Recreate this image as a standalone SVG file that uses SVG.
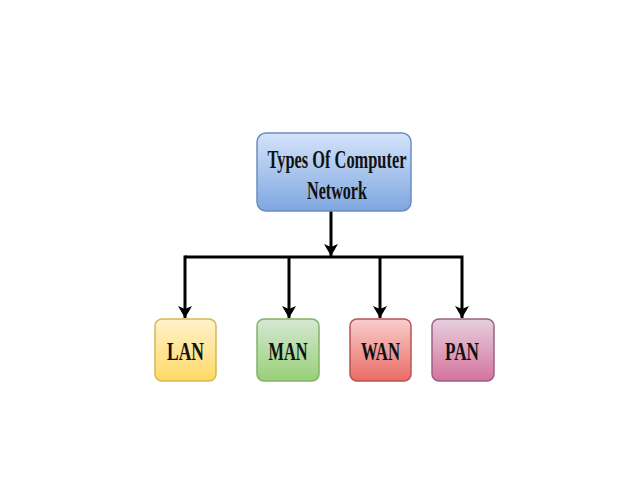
<svg xmlns="http://www.w3.org/2000/svg" width="638" height="478" viewBox="0 0 638 478">
<defs>
<linearGradient id="gBlue" x1="0" y1="0" x2="0" y2="1"><stop offset="0" stop-color="#d4e4fa"/><stop offset="1" stop-color="#7ea6e0"/></linearGradient>
<linearGradient id="gYellow" x1="0" y1="0" x2="0" y2="1"><stop offset="0" stop-color="#fff2cc"/><stop offset="1" stop-color="#ffd966"/></linearGradient>
<linearGradient id="gGreen" x1="0" y1="0" x2="0" y2="1"><stop offset="0" stop-color="#d5e8d4"/><stop offset="1" stop-color="#97d077"/></linearGradient>
<linearGradient id="gRed" x1="0" y1="0" x2="0" y2="1"><stop offset="0" stop-color="#f8cecc"/><stop offset="1" stop-color="#ea6b66"/></linearGradient>
<linearGradient id="gPink" x1="0" y1="0" x2="0" y2="1"><stop offset="0" stop-color="#e6d0de"/><stop offset="1" stop-color="#d5739d"/></linearGradient>
<marker id="arr" viewBox="0 0 12 14" refX="12" refY="7" markerWidth="12" markerHeight="14" markerUnits="userSpaceOnUse" orient="auto">
<path d="M0,0 L12,7 L0,14 L3,7 Z" fill="#000"/>
</marker>
</defs>
<style>
.lbl{font-family:"Liberation Serif","Times New Roman",serif;font-weight:bold;font-size:26px;fill:#111;text-anchor:middle}
.ln{fill:none;stroke:#000;stroke-width:3}
</style>
<rect width="638" height="478" fill="#fff"/>
<g id="connectors">
<line class="ln" x1="331" y1="211" x2="331" y2="256" marker-end="url(#arr)"/>
<polyline class="ln" points="185,257 462,257 462,318" marker-end="url(#arr)"/>
<line class="ln" x1="185" y1="255.5" x2="185" y2="318" marker-end="url(#arr)"/>
<line class="ln" x1="289" y1="257" x2="289" y2="318" marker-end="url(#arr)"/>
<line class="ln" x1="380" y1="257" x2="380" y2="318" marker-end="url(#arr)"/>
</g>
<g id="node-types">
<rect x="257" y="133" width="154" height="78" rx="9" fill="url(#gBlue)" stroke="#6c8ebf" stroke-width="1.5"/>
<text class="lbl" x="337" y="168" textLength="139" lengthAdjust="spacingAndGlyphs">Types Of Computer</text>
<text class="lbl" x="337" y="199" textLength="60" lengthAdjust="spacingAndGlyphs">Network</text>
</g>
<g id="node-lan">
<rect x="155" y="319" width="61" height="62" rx="7" fill="url(#gYellow)" stroke="#d6b656" stroke-width="1.5"/>
<text class="lbl" x="185.5" y="360" textLength="37" lengthAdjust="spacingAndGlyphs">LAN</text>
</g>
<g id="node-man">
<rect x="257" y="319" width="62" height="62" rx="7" fill="url(#gGreen)" stroke="#82b366" stroke-width="1.5"/>
<text class="lbl" x="288" y="360" textLength="39" lengthAdjust="spacingAndGlyphs">MAN</text>
</g>
<g id="node-wan">
<rect x="350" y="319" width="61" height="62" rx="7" fill="url(#gRed)" stroke="#b85450" stroke-width="1.5"/>
<text class="lbl" x="380.5" y="360" textLength="39" lengthAdjust="spacingAndGlyphs">WAN</text>
</g>
<g id="node-pan">
<rect x="432" y="319" width="62" height="62" rx="7" fill="url(#gPink)" stroke="#996185" stroke-width="1.5"/>
<text class="lbl" x="462" y="360" textLength="34" lengthAdjust="spacingAndGlyphs">PAN</text>
</g>
</svg>
